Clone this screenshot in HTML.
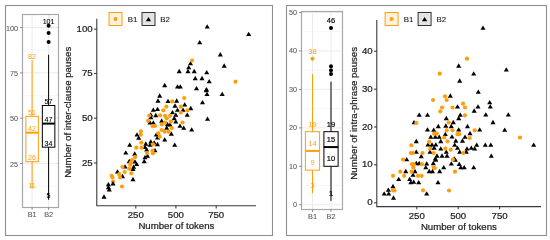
<!DOCTYPE html>
<html><head><meta charset="utf-8"><style>
html,body{margin:0;padding:0;background:#fff;}
svg{display:block;font-family:'Liberation Sans', sans-serif;}
</style></head><body>
<svg width="550" height="240" viewBox="0 0 550 240">
<rect width="550" height="240" fill="#fff"/>
<rect x="5.5" y="5.5" width="267" height="230" fill="none" stroke="#8f8f8f" stroke-width="1.1"/>
<rect x="286.5" y="5.5" width="260" height="230" fill="none" stroke="#8f8f8f" stroke-width="1.1"/>
<line x1="22.5" x2="58.5" y1="186.16" y2="186.16" stroke="#f2f2f2" stroke-width="0.7"/>
<line x1="22.5" x2="58.5" y1="140.83" y2="140.83" stroke="#f2f2f2" stroke-width="0.7"/>
<line x1="22.5" x2="58.5" y1="95.50" y2="95.50" stroke="#f2f2f2" stroke-width="0.7"/>
<line x1="22.5" x2="58.5" y1="50.17" y2="50.17" stroke="#f2f2f2" stroke-width="0.7"/>
<line x1="22.5" x2="58.5" y1="163.50" y2="163.50" stroke="#ebebeb" stroke-width="1"/>
<line x1="22.5" x2="58.5" y1="118.16" y2="118.16" stroke="#ebebeb" stroke-width="1"/>
<line x1="22.5" x2="58.5" y1="72.83" y2="72.83" stroke="#ebebeb" stroke-width="1"/>
<line x1="22.5" x2="58.5" y1="27.50" y2="27.50" stroke="#ebebeb" stroke-width="1"/>
<line x1="32.1" x2="32.1" y1="14.5" y2="207.5" stroke="#ebebeb" stroke-width="1"/>
<line x1="48.6" x2="48.6" y1="14.5" y2="207.5" stroke="#ebebeb" stroke-width="1"/>
<line x1="32.1" x2="32.1" y1="60.14" y2="116.35" stroke="#FF9E0D" stroke-width="1"/>
<line x1="32.1" x2="32.1" y1="161.68" y2="188.88" stroke="#FF9E0D" stroke-width="1"/>
<rect x="25.85" y="116.35" width="12.5" height="45.33" fill="#fff" stroke="#FF9E0D" stroke-width="1"/>
<line x1="25.85" x2="38.35" y1="132.67" y2="132.67" stroke="#FF9E0D" stroke-width="2"/>
<text x="32.1" y="58.79" font-size="7.15" fill="#FF9E0D" stroke="#FF9E0D" stroke-width="0" text-anchor="middle">82</text>
<text x="32.1" y="115.00" font-size="7.15" fill="#FF9E0D" stroke="#FF9E0D" stroke-width="0" text-anchor="middle">51</text>
<text x="32.1" y="131.32" font-size="7.15" fill="#FF9E0D" stroke="#FF9E0D" stroke-width="0" text-anchor="middle">42</text>
<text x="32.1" y="160.33" font-size="7.15" fill="#FF9E0D" stroke="#FF9E0D" stroke-width="0" text-anchor="middle">26</text>
<text x="32.1" y="187.53" font-size="7.15" fill="#FF9E0D" stroke="#FF9E0D" stroke-width="0" text-anchor="middle">11</text>
<line x1="48.6" x2="48.6" y1="54.70" y2="105.47" stroke="#000" stroke-width="1"/>
<line x1="48.6" x2="48.6" y1="147.18" y2="199.76" stroke="#000" stroke-width="1"/>
<rect x="42.35" y="105.47" width="12.5" height="41.71" fill="#fff" stroke="#000" stroke-width="1"/>
<line x1="42.35" x2="54.85" y1="123.60" y2="123.60" stroke="#000" stroke-width="2"/>
<circle cx="48.6" cy="25.69" r="2.0" fill="#000"/>
<circle cx="48.6" cy="32.94" r="2.0" fill="#000"/>
<circle cx="48.6" cy="42.01" r="2.0" fill="#000"/>
<text x="48.6" y="24.33" font-size="7.15" fill="#000" stroke="#000" stroke-width="0.08" text-anchor="middle">101</text>
<text x="48.6" y="104.12" font-size="7.15" fill="#000" stroke="#000" stroke-width="0.08" text-anchor="middle">57</text>
<text x="48.6" y="122.25" font-size="7.15" fill="#000" stroke="#000" stroke-width="0.08" text-anchor="middle">47</text>
<text x="48.6" y="145.83" font-size="7.15" fill="#000" stroke="#000" stroke-width="0.08" text-anchor="middle">34</text>
<text x="48.6" y="198.41" font-size="7.15" fill="#000" stroke="#000" stroke-width="0.08" text-anchor="middle">5</text>
<rect x="22.5" y="14.5" width="36.0" height="193.0" fill="none" stroke="#a8a8a8" stroke-width="1.2"/>
<line x1="20.1" x2="22.5" y1="27.50" y2="27.50" stroke="#888" stroke-width="1"/>
<text x="18.1" y="30.50" font-size="7.2" fill="#5a5a5a" stroke="#5a5a5a" stroke-width="0.08" text-anchor="end">100</text>
<line x1="20.1" x2="22.5" y1="72.83" y2="72.83" stroke="#888" stroke-width="1"/>
<text x="18.1" y="75.83" font-size="7.2" fill="#5a5a5a" stroke="#5a5a5a" stroke-width="0.08" text-anchor="end">75</text>
<line x1="20.1" x2="22.5" y1="118.16" y2="118.16" stroke="#888" stroke-width="1"/>
<text x="18.1" y="121.16" font-size="7.2" fill="#5a5a5a" stroke="#5a5a5a" stroke-width="0.08" text-anchor="end">50</text>
<line x1="20.1" x2="22.5" y1="163.50" y2="163.50" stroke="#888" stroke-width="1"/>
<text x="18.1" y="166.50" font-size="7.2" fill="#5a5a5a" stroke="#5a5a5a" stroke-width="0.08" text-anchor="end">25</text>
<line x1="32.1" x2="32.1" y1="207.5" y2="209.9" stroke="#888" stroke-width="1"/>
<text x="32.1" y="216.8" font-size="7.3" fill="#5a5a5a" stroke="#5a5a5a" stroke-width="0.08" text-anchor="middle">B1</text>
<line x1="48.6" x2="48.6" y1="207.5" y2="209.9" stroke="#888" stroke-width="1"/>
<text x="48.6" y="216.8" font-size="7.3" fill="#5a5a5a" stroke="#5a5a5a" stroke-width="0.08" text-anchor="middle">B2</text>
<line x1="301.5" x2="342.5" y1="185.53" y2="185.53" stroke="#f2f2f2" stroke-width="0.7"/>
<line x1="301.5" x2="342.5" y1="147.08" y2="147.08" stroke="#f2f2f2" stroke-width="0.7"/>
<line x1="301.5" x2="342.5" y1="108.62" y2="108.62" stroke="#f2f2f2" stroke-width="0.7"/>
<line x1="301.5" x2="342.5" y1="70.18" y2="70.18" stroke="#f2f2f2" stroke-width="0.7"/>
<line x1="301.5" x2="342.5" y1="31.73" y2="31.73" stroke="#f2f2f2" stroke-width="0.7"/>
<line x1="301.5" x2="342.5" y1="204.75" y2="204.75" stroke="#ebebeb" stroke-width="1"/>
<line x1="301.5" x2="342.5" y1="166.30" y2="166.30" stroke="#ebebeb" stroke-width="1"/>
<line x1="301.5" x2="342.5" y1="127.85" y2="127.85" stroke="#ebebeb" stroke-width="1"/>
<line x1="301.5" x2="342.5" y1="89.40" y2="89.40" stroke="#ebebeb" stroke-width="1"/>
<line x1="301.5" x2="342.5" y1="50.95" y2="50.95" stroke="#ebebeb" stroke-width="1"/>
<line x1="301.5" x2="342.5" y1="12.50" y2="12.50" stroke="#ebebeb" stroke-width="1"/>
<line x1="312.5" x2="312.5" y1="11.5" y2="209.5" stroke="#ebebeb" stroke-width="1"/>
<line x1="331" x2="331" y1="11.5" y2="209.5" stroke="#ebebeb" stroke-width="1"/>
<line x1="312.5" x2="312.5" y1="74.02" y2="131.69" stroke="#FF9E0D" stroke-width="1"/>
<line x1="312.5" x2="312.5" y1="170.15" y2="193.22" stroke="#FF9E0D" stroke-width="1"/>
<rect x="305.40" y="131.69" width="14.2" height="38.45" fill="#fff" stroke="#FF9E0D" stroke-width="1"/>
<line x1="305.40" x2="319.60" y1="150.92" y2="150.92" stroke="#FF9E0D" stroke-width="2"/>
<circle cx="312.5" cy="58.64" r="2.0" fill="#FF9E0D"/>
<text x="312.5" y="53.65" font-size="7.5" fill="#FF9E0D" stroke="#FF9E0D" stroke-width="0" text-anchor="middle">38</text>
<text x="312.5" y="126.71" font-size="7.5" fill="#FF9E0D" stroke="#FF9E0D" stroke-width="0" text-anchor="middle">19</text>
<text x="312.5" y="145.93" font-size="7.5" fill="#FF9E0D" stroke="#FF9E0D" stroke-width="0" text-anchor="middle">14</text>
<text x="312.5" y="165.16" font-size="7.5" fill="#FF9E0D" stroke="#FF9E0D" stroke-width="0" text-anchor="middle">9</text>
<text x="312.5" y="188.22" font-size="7.5" fill="#FF9E0D" stroke="#FF9E0D" stroke-width="0" text-anchor="middle">3</text>
<line x1="331" x2="331" y1="81.71" y2="131.69" stroke="#000" stroke-width="1"/>
<line x1="331" x2="331" y1="166.30" y2="200.91" stroke="#000" stroke-width="1"/>
<rect x="323.90" y="131.69" width="14.2" height="34.61" fill="#fff" stroke="#000" stroke-width="1"/>
<line x1="323.90" x2="338.10" y1="147.08" y2="147.08" stroke="#000" stroke-width="2"/>
<circle cx="331" cy="27.88" r="2.0" fill="#000"/>
<circle cx="331" cy="66.33" r="2.0" fill="#000"/>
<circle cx="331" cy="70.18" r="2.0" fill="#000"/>
<circle cx="331" cy="74.02" r="2.0" fill="#000"/>
<text x="331" y="22.89" font-size="7.5" fill="#000" stroke="#000" stroke-width="0.18" text-anchor="middle">46</text>
<text x="331" y="126.71" font-size="7.5" fill="#000" stroke="#000" stroke-width="0.18" text-anchor="middle">19</text>
<text x="331" y="142.08" font-size="7.5" fill="#000" stroke="#000" stroke-width="0.18" text-anchor="middle">15</text>
<text x="331" y="161.31" font-size="7.5" fill="#000" stroke="#000" stroke-width="0.18" text-anchor="middle">10</text>
<text x="331" y="195.91" font-size="7.5" fill="#000" stroke="#000" stroke-width="0.18" text-anchor="middle">1</text>
<rect x="301.5" y="11.5" width="41.0" height="198.0" fill="none" stroke="#a8a8a8" stroke-width="1.2"/>
<line x1="299.1" x2="301.5" y1="12.50" y2="12.50" stroke="#888" stroke-width="1"/>
<text x="297.1" y="14.80" font-size="7.2" fill="#5a5a5a" stroke="#5a5a5a" stroke-width="0.08" text-anchor="end">50</text>
<line x1="299.1" x2="301.5" y1="50.95" y2="50.95" stroke="#888" stroke-width="1"/>
<text x="297.1" y="53.25" font-size="7.2" fill="#5a5a5a" stroke="#5a5a5a" stroke-width="0.08" text-anchor="end">40</text>
<line x1="299.1" x2="301.5" y1="89.40" y2="89.40" stroke="#888" stroke-width="1"/>
<text x="297.1" y="91.70" font-size="7.2" fill="#5a5a5a" stroke="#5a5a5a" stroke-width="0.08" text-anchor="end">30</text>
<line x1="299.1" x2="301.5" y1="127.85" y2="127.85" stroke="#888" stroke-width="1"/>
<text x="297.1" y="130.15" font-size="7.2" fill="#5a5a5a" stroke="#5a5a5a" stroke-width="0.08" text-anchor="end">20</text>
<line x1="299.1" x2="301.5" y1="166.30" y2="166.30" stroke="#888" stroke-width="1"/>
<text x="297.1" y="168.60" font-size="7.2" fill="#5a5a5a" stroke="#5a5a5a" stroke-width="0.08" text-anchor="end">10</text>
<line x1="299.1" x2="301.5" y1="204.75" y2="204.75" stroke="#888" stroke-width="1"/>
<text x="297.1" y="207.05" font-size="7.2" fill="#5a5a5a" stroke="#5a5a5a" stroke-width="0.08" text-anchor="end">0</text>
<line x1="312.5" x2="312.5" y1="209.5" y2="211.9" stroke="#888" stroke-width="1"/>
<text x="312.5" y="218.6" font-size="7.3" fill="#5a5a5a" stroke="#5a5a5a" stroke-width="0.08" text-anchor="middle">B1</text>
<line x1="331" x2="331" y1="209.5" y2="211.9" stroke="#888" stroke-width="1"/>
<text x="331" y="218.6" font-size="7.3" fill="#5a5a5a" stroke="#5a5a5a" stroke-width="0.08" text-anchor="middle">B2</text>
<path d="M96.8 18.8 V205.8 H256" fill="none" stroke="#3a3a3a" stroke-width="1.1"/>
<line x1="94.1" x2="96.8" y1="29.2" y2="29.2" stroke="#3a3a3a" stroke-width="1.1"/>
<text x="92.6" y="31.70" font-size="9.65" fill="#222" stroke="#222" stroke-width="0.22" text-anchor="end">100</text>
<line x1="94.1" x2="96.8" y1="73.5" y2="73.5" stroke="#3a3a3a" stroke-width="1.1"/>
<text x="92.6" y="76.00" font-size="9.65" fill="#222" stroke="#222" stroke-width="0.22" text-anchor="end">75</text>
<line x1="94.1" x2="96.8" y1="118.2" y2="118.2" stroke="#3a3a3a" stroke-width="1.1"/>
<text x="92.6" y="120.70" font-size="9.65" fill="#222" stroke="#222" stroke-width="0.22" text-anchor="end">50</text>
<line x1="94.1" x2="96.8" y1="163" y2="163" stroke="#3a3a3a" stroke-width="1.1"/>
<text x="92.6" y="165.50" font-size="9.65" fill="#222" stroke="#222" stroke-width="0.22" text-anchor="end">25</text>
<line x1="135.8" x2="135.8" y1="205.8" y2="208.5" stroke="#3a3a3a" stroke-width="1.1"/>
<text x="135.8" y="217.80" font-size="9.65" fill="#222" stroke="#222" stroke-width="0.22" text-anchor="middle">250</text>
<line x1="175.9" x2="175.9" y1="205.8" y2="208.5" stroke="#3a3a3a" stroke-width="1.1"/>
<text x="175.9" y="217.80" font-size="9.65" fill="#222" stroke="#222" stroke-width="0.22" text-anchor="middle">500</text>
<line x1="216.2" x2="216.2" y1="205.8" y2="208.5" stroke="#3a3a3a" stroke-width="1.1"/>
<text x="216.2" y="217.80" font-size="9.65" fill="#222" stroke="#222" stroke-width="0.22" text-anchor="middle">750</text>
<text x="176.4" y="229.40" font-size="9.65" fill="#222" stroke="#222" stroke-width="0.22" text-anchor="middle">Number of tokens</text>
<text x="0" y="0" font-size="9.65" fill="#222" stroke="#222" stroke-width="0.22" text-anchor="middle" transform="translate(71.3,112.30) rotate(-90)">Number of inter-clause pauses</text>
<rect x="109.0" y="12.5" width="13" height="13" fill="#fdf1e0" stroke="#FF9E0D" stroke-width="1"/>
<circle cx="115.5" cy="19" r="1.9" fill="#FF9E0D"/>
<text x="127.7" y="22.4" font-size="7.9" fill="#222" stroke="#222" stroke-width="0.1" text-anchor="start">B1</text>
<rect x="142.0" y="12.5" width="13" height="13" fill="#e4e4e4" stroke="#333" stroke-width="1"/>
<path d="M148.5 17L151.1 21.2L145.9 21.2Z" fill="#000"/>
<text x="160.3" y="22.4" font-size="7.9" fill="#222" stroke="#222" stroke-width="0.1" text-anchor="start">B2</text>
<g fill="#000"><path d="M207.20 24.15L209.75 28.55L204.65 28.55Z"/><path d="M248.70 31.65L251.25 36.05L246.15 36.05Z"/><path d="M199.70 39.95L202.25 44.35L197.15 44.35Z"/><path d="M220.30 52.05L222.85 56.45L217.75 56.45Z"/><path d="M190.50 60.95L193.05 65.35L187.95 65.35Z"/><path d="M188.70 64.95L191.25 69.35L186.15 69.35Z"/><path d="M179.20 68.75L181.75 73.15L176.65 73.15Z"/><path d="M188.00 68.75L190.55 73.15L185.45 73.15Z"/><path d="M194.20 68.75L196.75 73.15L191.65 73.15Z"/><path d="M206.70 69.95L209.25 74.35L204.15 74.35Z"/><path d="M195.30 75.75L197.85 80.15L192.75 80.15Z"/><path d="M202.00 75.75L204.55 80.15L199.45 80.15Z"/><path d="M209.20 78.95L211.75 83.35L206.65 83.35Z"/><path d="M164.70 82.75L167.25 87.15L162.15 87.15Z"/><path d="M177.50 84.15L180.05 88.55L174.95 88.55Z"/><path d="M180.30 84.15L182.85 88.55L177.75 88.55Z"/><path d="M196.50 85.95L199.05 90.35L193.95 90.35Z"/><path d="M206.50 86.95L209.05 91.35L203.95 91.35Z"/><path d="M224.20 63.25L226.75 67.65L221.65 67.65Z"/><path d="M206.30 87.75L208.85 92.15L203.75 92.15Z"/><path d="M207.00 91.65L209.55 96.05L204.45 96.05Z"/><path d="M222.20 91.65L224.75 96.05L219.65 96.05Z"/><path d="M202.50 99.95L205.05 104.35L199.95 104.35Z"/><path d="M207.50 116.45L210.05 120.85L204.95 120.85Z"/><path d="M159.70 93.25L162.25 97.65L157.15 97.65Z"/><path d="M158.00 98.25L160.55 102.65L155.45 102.65Z"/><path d="M168.00 98.65L170.55 103.05L165.45 103.05Z"/><path d="M176.70 98.25L179.25 102.65L174.15 102.65Z"/><path d="M184.70 102.15L187.25 106.55L182.15 106.55Z"/><path d="M175.00 103.25L177.55 107.65L172.45 107.65Z"/><path d="M190.80 105.75L193.35 110.15L188.25 110.15Z"/><path d="M157.50 106.65L160.05 111.05L154.95 111.05Z"/><path d="M153.30 107.45L155.85 111.85L150.75 111.85Z"/><path d="M177.50 107.45L180.05 111.85L174.95 111.85Z"/><path d="M183.00 107.45L185.55 111.85L180.45 111.85Z"/><path d="M172.50 109.95L175.05 114.35L169.95 114.35Z"/><path d="M150.80 112.15L153.35 116.55L148.25 116.55Z"/><path d="M155.80 112.75L158.35 117.15L153.25 117.15Z"/><path d="M175.80 112.45L178.35 116.85L173.25 116.85Z"/><path d="M187.20 112.45L189.75 116.85L184.65 116.85Z"/><path d="M174.20 115.75L176.75 120.15L171.65 120.15Z"/><path d="M150.80 114.95L153.35 119.35L148.25 119.35Z"/><path d="M161.70 118.25L164.25 122.65L159.15 122.65Z"/><path d="M175.80 119.15L178.35 123.55L173.25 123.55Z"/><path d="M150.00 120.15L152.55 124.55L147.45 124.55Z"/><path d="M153.30 120.15L155.85 124.55L150.75 124.55Z"/><path d="M167.50 121.75L170.05 126.15L164.95 126.15Z"/><path d="M170.00 122.15L172.55 126.55L167.45 126.55Z"/><path d="M180.00 123.45L182.55 127.85L177.45 127.85Z"/><path d="M183.70 125.45L186.25 129.85L181.15 129.85Z"/><path d="M191.70 127.15L194.25 131.55L189.15 131.55Z"/><path d="M166.70 125.45L169.25 129.85L164.15 129.85Z"/><path d="M171.30 131.25L173.85 135.65L168.75 135.65Z"/><path d="M156.30 132.15L158.85 136.55L153.75 136.55Z"/><path d="M157.50 135.15L160.05 139.55L154.95 139.55Z"/><path d="M164.70 137.15L167.25 141.55L162.15 141.55Z"/><path d="M174.70 142.45L177.25 146.85L172.15 146.85Z"/><path d="M145.80 141.25L148.35 145.65L143.25 145.65Z"/><path d="M150.80 139.15L153.35 143.55L148.25 143.55Z"/><path d="M154.20 140.15L156.75 144.55L151.65 144.55Z"/><path d="M157.50 141.75L160.05 146.15L154.95 146.15Z"/><path d="M150.00 142.45L152.55 146.85L147.45 146.85Z"/><path d="M145.00 144.65L147.55 149.05L142.45 149.05Z"/><path d="M146.70 147.15L149.25 151.55L144.15 151.55Z"/><path d="M155.00 147.95L157.55 152.35L152.45 152.35Z"/><path d="M147.50 153.45L150.05 157.85L144.95 157.85Z"/><path d="M137.00 132.15L139.55 136.55L134.45 136.55Z"/><path d="M138.70 135.45L141.25 139.85L136.15 139.85Z"/><path d="M129.70 142.45L132.25 146.85L127.15 146.85Z"/><path d="M125.80 150.15L128.35 154.55L123.25 154.55Z"/><path d="M134.70 151.25L137.25 155.65L132.15 155.65Z"/><path d="M145.00 154.95L147.55 159.35L142.45 159.35Z"/><path d="M144.20 158.75L146.75 163.15L141.65 163.15Z"/><path d="M129.20 158.75L131.75 163.15L126.65 163.15Z"/><path d="M135.00 159.15L137.55 163.55L132.45 163.55Z"/><path d="M136.70 161.65L139.25 166.05L134.15 166.05Z"/><path d="M125.00 164.15L127.55 168.55L122.45 168.55Z"/><path d="M133.70 164.45L136.25 168.85L131.15 168.85Z"/><path d="M133.00 166.65L135.55 171.05L130.45 171.05Z"/><path d="M117.50 169.15L120.05 173.55L114.95 173.55Z"/><path d="M122.50 173.75L125.05 178.15L119.95 178.15Z"/><path d="M133.00 176.75L135.55 181.15L130.45 181.15Z"/><path d="M108.40 181.95L110.95 186.35L105.85 186.35Z"/><path d="M108.40 184.85L110.95 189.25L105.85 189.25Z"/><path d="M109.30 187.05L111.85 191.45L106.75 191.45Z"/><path d="M104.00 194.35L106.55 198.75L101.45 198.75Z"/></g>
<g fill="#FF9E0D"><circle cx="192.0" cy="60.5" r="2.1"/><circle cx="235.5" cy="81.7" r="2.1"/><circle cx="184.2" cy="98.0" r="2.1"/><circle cx="172.2" cy="101.3" r="2.1"/><circle cx="166.3" cy="106.7" r="2.1"/><circle cx="180.8" cy="106.7" r="2.1"/><circle cx="163.3" cy="110.3" r="2.1"/><circle cx="187.5" cy="110.3" r="2.1"/><circle cx="180.8" cy="112.5" r="2.1"/><circle cx="149.2" cy="115.5" r="2.1"/><circle cx="160.0" cy="115.3" r="2.1"/><circle cx="165.0" cy="115.8" r="2.1"/><circle cx="170.0" cy="115.8" r="2.1"/><circle cx="166.7" cy="118.3" r="2.1"/><circle cx="148.0" cy="120.8" r="2.1"/><circle cx="170.8" cy="121.7" r="2.1"/><circle cx="182.5" cy="122.5" r="2.1"/><circle cx="161.7" cy="124.3" r="2.1"/><circle cx="165.0" cy="122.7" r="2.1"/><circle cx="152.5" cy="126.0" r="2.1"/><circle cx="155.0" cy="126.0" r="2.1"/><circle cx="171.7" cy="128.0" r="2.1"/><circle cx="161.7" cy="130.0" r="2.1"/><circle cx="164.7" cy="131.7" r="2.1"/><circle cx="168.7" cy="131.7" r="2.1"/><circle cx="140.8" cy="131.3" r="2.1"/><circle cx="140.8" cy="134.7" r="2.1"/><circle cx="158.3" cy="133.3" r="2.1"/><circle cx="159.7" cy="136.7" r="2.1"/><circle cx="141.3" cy="142.7" r="2.1"/><circle cx="153.0" cy="144.3" r="2.1"/><circle cx="141.7" cy="147.7" r="2.1"/><circle cx="152.5" cy="150.5" r="2.1"/><circle cx="153.0" cy="153.3" r="2.1"/><circle cx="147.0" cy="153.0" r="2.1"/><circle cx="136.3" cy="147.7" r="2.1"/><circle cx="135.0" cy="157.2" r="2.1"/><circle cx="132.0" cy="160.0" r="2.1"/><circle cx="130.8" cy="162.5" r="2.1"/><circle cx="130.3" cy="164.7" r="2.1"/><circle cx="122.5" cy="167.0" r="2.1"/><circle cx="129.2" cy="168.7" r="2.1"/><circle cx="124.7" cy="172.0" r="2.1"/><circle cx="119.2" cy="174.2" r="2.1"/><circle cx="131.3" cy="173.3" r="2.1"/><circle cx="111.7" cy="175.8" r="2.1"/><circle cx="112.5" cy="177.5" r="2.1"/><circle cx="120.0" cy="177.5" r="2.1"/><circle cx="113.0" cy="181.7" r="2.1"/><circle cx="122.0" cy="186.5" r="2.1"/></g>
<g fill="#000"><path d="M113.00 181.05L115.55 185.45L110.45 185.45Z"/></g>
<path d="M376.8 20 V206.6 H541" fill="none" stroke="#3a3a3a" stroke-width="1.1"/>
<line x1="374.1" x2="376.8" y1="51.25" y2="51.25" stroke="#3a3a3a" stroke-width="1.1"/>
<text x="372.6" y="53.75" font-size="9.65" fill="#222" stroke="#222" stroke-width="0.22" text-anchor="end">40</text>
<line x1="374.1" x2="376.8" y1="89.2" y2="89.2" stroke="#3a3a3a" stroke-width="1.1"/>
<text x="372.6" y="91.70" font-size="9.65" fill="#222" stroke="#222" stroke-width="0.22" text-anchor="end">30</text>
<line x1="374.1" x2="376.8" y1="127" y2="127" stroke="#3a3a3a" stroke-width="1.1"/>
<text x="372.6" y="129.50" font-size="9.65" fill="#222" stroke="#222" stroke-width="0.22" text-anchor="end">20</text>
<line x1="374.1" x2="376.8" y1="164.8" y2="164.8" stroke="#3a3a3a" stroke-width="1.1"/>
<text x="372.6" y="167.30" font-size="9.65" fill="#222" stroke="#222" stroke-width="0.22" text-anchor="end">10</text>
<line x1="374.1" x2="376.8" y1="202.8" y2="202.8" stroke="#3a3a3a" stroke-width="1.1"/>
<text x="372.6" y="205.30" font-size="9.65" fill="#222" stroke="#222" stroke-width="0.22" text-anchor="end">0</text>
<line x1="416.8" x2="416.8" y1="206.6" y2="209.29999999999998" stroke="#3a3a3a" stroke-width="1.1"/>
<text x="416.8" y="218.60" font-size="9.65" fill="#222" stroke="#222" stroke-width="0.22" text-anchor="middle">250</text>
<line x1="458.2" x2="458.2" y1="206.6" y2="209.29999999999998" stroke="#3a3a3a" stroke-width="1.1"/>
<text x="458.2" y="218.60" font-size="9.65" fill="#222" stroke="#222" stroke-width="0.22" text-anchor="middle">500</text>
<line x1="499.6" x2="499.6" y1="206.6" y2="209.29999999999998" stroke="#3a3a3a" stroke-width="1.1"/>
<text x="499.6" y="218.60" font-size="9.65" fill="#222" stroke="#222" stroke-width="0.22" text-anchor="middle">750</text>
<text x="458.9" y="230.20" font-size="9.65" fill="#222" stroke="#222" stroke-width="0.22" text-anchor="middle">Number of tokens</text>
<text x="0" y="0" font-size="9.65" fill="#222" stroke="#222" stroke-width="0.22" text-anchor="middle" transform="translate(356.6,113.30) rotate(-90)">Number of intra-phrase pauses</text>
<rect x="385.1" y="12.5" width="13" height="13" fill="#fdf1e0" stroke="#FF9E0D" stroke-width="1"/>
<circle cx="391.6" cy="19" r="1.9" fill="#FF9E0D"/>
<text x="403.8" y="22.4" font-size="7.9" fill="#222" stroke="#222" stroke-width="0.1" text-anchor="start">B1</text>
<rect x="418.1" y="12.5" width="13" height="13" fill="#e4e4e4" stroke="#333" stroke-width="1"/>
<path d="M424.6 17L427.20000000000005 21.2L422.0 21.2Z" fill="#000"/>
<text x="436.40000000000003" y="22.4" font-size="7.9" fill="#222" stroke="#222" stroke-width="0.1" text-anchor="start">B2</text>
<g fill="#000"><path d="M483.00 25.45L485.55 29.85L480.45 29.85Z"/><path d="M458.70 63.25L461.25 67.65L456.15 67.65Z"/><path d="M473.70 71.15L476.25 75.55L471.15 75.55Z"/><path d="M459.70 78.25L462.25 82.65L457.15 82.65Z"/><path d="M506.30 67.15L508.85 71.55L503.75 71.55Z"/><path d="M419.20 112.45L421.75 116.85L416.65 116.85Z"/><path d="M427.50 112.45L430.05 116.85L424.95 116.85Z"/><path d="M414.00 119.95L416.55 124.35L411.45 124.35Z"/><path d="M478.30 89.45L480.85 93.85L475.75 93.85Z"/><path d="M450.30 93.25L452.85 97.65L447.75 97.65Z"/><path d="M457.50 104.15L460.05 108.55L454.95 108.55Z"/><path d="M478.00 104.15L480.55 108.55L475.45 108.55Z"/><path d="M489.70 99.95L492.25 104.35L487.15 104.35Z"/><path d="M490.30 104.15L492.85 108.55L487.75 108.55Z"/><path d="M474.20 108.25L476.75 112.65L471.65 112.65Z"/><path d="M460.30 112.45L462.85 116.85L457.75 116.85Z"/><path d="M485.80 112.15L488.35 116.55L483.25 116.55Z"/><path d="M458.70 115.75L461.25 120.15L456.15 120.15Z"/><path d="M446.30 115.75L448.85 120.15L443.75 120.15Z"/><path d="M453.30 119.75L455.85 124.15L450.75 124.15Z"/><path d="M508.30 112.15L510.85 116.55L505.75 116.55Z"/><path d="M493.00 119.75L495.55 124.15L490.45 124.15Z"/><path d="M427.50 127.15L430.05 131.55L424.95 131.55Z"/><path d="M416.30 138.75L418.85 143.15L413.75 143.15Z"/><path d="M428.00 142.15L430.55 146.55L425.45 146.55Z"/><path d="M416.30 149.45L418.85 153.85L413.75 153.85Z"/><path d="M430.00 149.45L432.55 153.85L427.45 153.85Z"/><path d="M421.30 153.75L423.85 158.15L418.75 158.15Z"/><path d="M406.70 156.95L409.25 161.35L404.15 161.35Z"/><path d="M438.30 123.75L440.85 128.15L435.75 128.15Z"/><path d="M445.80 123.25L448.35 127.65L443.25 127.65Z"/><path d="M451.30 123.75L453.85 128.15L448.75 128.15Z"/><path d="M467.50 123.75L470.05 128.15L464.95 128.15Z"/><path d="M433.70 127.45L436.25 131.85L431.15 131.85Z"/><path d="M458.70 127.15L461.25 131.55L456.15 131.55Z"/><path d="M479.70 127.15L482.25 131.55L477.15 131.55Z"/><path d="M445.30 131.65L447.85 136.05L442.75 136.05Z"/><path d="M470.00 130.75L472.55 135.15L467.45 135.15Z"/><path d="M430.80 134.45L433.35 138.85L428.25 138.85Z"/><path d="M435.30 134.45L437.85 138.85L432.75 138.85Z"/><path d="M439.20 134.45L441.75 138.85L436.65 138.85Z"/><path d="M452.00 134.15L454.55 138.55L449.45 138.55Z"/><path d="M465.00 134.45L467.55 138.85L462.45 138.85Z"/><path d="M440.80 138.75L443.35 143.15L438.25 143.15Z"/><path d="M455.80 138.25L458.35 142.65L453.25 142.65Z"/><path d="M462.50 138.25L465.05 142.65L459.95 142.65Z"/><path d="M432.00 142.15L434.55 146.55L429.45 146.55Z"/><path d="M435.80 142.15L438.35 146.55L433.25 146.55Z"/><path d="M454.70 142.45L457.25 146.85L452.15 146.85Z"/><path d="M476.70 142.45L479.25 146.85L474.15 146.85Z"/><path d="M485.30 142.45L487.85 146.85L482.75 146.85Z"/><path d="M431.00 145.45L433.55 149.85L428.45 149.85Z"/><path d="M434.20 145.45L436.75 149.85L431.65 149.85Z"/><path d="M440.80 146.15L443.35 150.55L438.25 150.55Z"/><path d="M457.50 145.45L460.05 149.85L454.95 149.85Z"/><path d="M467.00 146.15L469.55 150.55L464.45 150.55Z"/><path d="M471.30 145.45L473.85 149.85L468.75 149.85Z"/><path d="M474.70 146.15L477.25 150.55L472.15 150.55Z"/><path d="M446.30 149.45L448.85 153.85L443.75 153.85Z"/><path d="M459.70 149.45L462.25 153.85L457.15 153.85Z"/><path d="M466.30 149.45L468.85 153.85L463.75 153.85Z"/><path d="M437.00 153.25L439.55 157.65L434.45 157.65Z"/><path d="M442.00 153.25L444.55 157.65L439.45 157.65Z"/><path d="M447.00 153.25L449.55 157.65L444.45 157.65Z"/><path d="M435.30 156.15L437.85 160.55L432.75 160.55Z"/><path d="M454.20 156.15L456.75 160.55L451.65 160.55Z"/><path d="M504.70 127.45L507.25 131.85L502.15 131.85Z"/><path d="M490.80 142.45L493.35 146.85L488.25 146.85Z"/><path d="M533.70 142.45L536.25 146.85L531.15 146.85Z"/><path d="M491.30 153.45L493.85 157.85L488.75 157.85Z"/><path d="M416.30 160.75L418.85 165.15L413.75 165.15Z"/><path d="M419.20 160.75L421.75 165.15L416.65 165.15Z"/><path d="M426.70 161.15L429.25 165.55L424.15 165.55Z"/><path d="M433.30 160.75L435.85 165.15L430.75 165.15Z"/><path d="M425.80 164.95L428.35 169.35L423.25 169.35Z"/><path d="M405.80 168.75L408.35 173.15L403.25 173.15Z"/><path d="M415.00 168.75L417.55 173.15L412.45 173.15Z"/><path d="M429.20 168.75L431.75 173.15L426.65 173.15Z"/><path d="M432.50 168.75L435.05 173.15L429.95 173.15Z"/><path d="M413.00 172.45L415.55 176.85L410.45 176.85Z"/><path d="M398.70 176.65L401.25 181.05L396.15 181.05Z"/><path d="M409.70 176.65L412.25 181.05L407.15 181.05Z"/><path d="M410.80 179.95L413.35 184.35L408.25 184.35Z"/><path d="M413.70 179.45L416.25 183.85L411.15 183.85Z"/><path d="M418.70 179.95L421.25 184.35L416.15 184.35Z"/><path d="M393.00 183.75L395.55 188.15L390.45 188.15Z"/><path d="M388.30 187.45L390.85 191.85L385.75 191.85Z"/><path d="M384.20 191.15L386.75 195.55L381.65 195.55Z"/><path d="M388.70 191.15L391.25 195.55L386.15 195.55Z"/><path d="M426.70 191.15L429.25 195.55L424.15 195.55Z"/><path d="M393.50 195.25L396.05 199.65L390.95 199.65Z"/><path d="M435.80 157.45L438.35 161.85L433.25 161.85Z"/><path d="M455.30 157.45L457.85 161.85L452.75 161.85Z"/><path d="M451.30 161.15L453.85 165.55L448.75 165.55Z"/><path d="M459.20 161.65L461.75 166.05L456.65 166.05Z"/><path d="M443.70 164.95L446.25 169.35L441.15 169.35Z"/><path d="M460.80 164.95L463.35 169.35L458.25 169.35Z"/><path d="M464.20 164.95L466.75 169.35L461.65 169.35Z"/><path d="M473.70 164.95L476.25 169.35L471.15 169.35Z"/><path d="M439.70 168.75L442.25 173.15L437.15 173.15Z"/><path d="M438.00 179.95L440.55 184.35L435.45 184.35Z"/></g>
<g fill="#FF9E0D"><circle cx="467.0" cy="58.7" r="2.1"/><circle cx="439.7" cy="73.7" r="2.1"/><circle cx="433.0" cy="100.0" r="2.1"/><circle cx="416.3" cy="123.0" r="2.1"/><circle cx="445.0" cy="96.3" r="2.1"/><circle cx="446.7" cy="100.0" r="2.1"/><circle cx="463.0" cy="103.7" r="2.1"/><circle cx="465.0" cy="107.5" r="2.1"/><circle cx="442.0" cy="107.5" r="2.1"/><circle cx="452.5" cy="107.5" r="2.1"/><circle cx="440.3" cy="111.3" r="2.1"/><circle cx="465.0" cy="115.3" r="2.1"/><circle cx="448.7" cy="122.5" r="2.1"/><circle cx="429.2" cy="141.7" r="2.1"/><circle cx="411.3" cy="145.3" r="2.1"/><circle cx="430.3" cy="148.7" r="2.1"/><circle cx="410.8" cy="153.0" r="2.1"/><circle cx="413.0" cy="153.0" r="2.1"/><circle cx="422.5" cy="153.0" r="2.1"/><circle cx="433.7" cy="153.0" r="2.1"/><circle cx="403.0" cy="159.5" r="2.1"/><circle cx="446.7" cy="130.3" r="2.1"/><circle cx="452.5" cy="130.3" r="2.1"/><circle cx="474.7" cy="130.3" r="2.1"/><circle cx="434.2" cy="133.7" r="2.1"/><circle cx="436.7" cy="133.7" r="2.1"/><circle cx="457.5" cy="134.2" r="2.1"/><circle cx="459.2" cy="134.2" r="2.1"/><circle cx="444.2" cy="137.5" r="2.1"/><circle cx="469.7" cy="138.0" r="2.1"/><circle cx="447.5" cy="141.3" r="2.1"/><circle cx="445.3" cy="148.7" r="2.1"/><circle cx="450.8" cy="149.7" r="2.1"/><circle cx="463.3" cy="153.0" r="2.1"/><circle cx="453.0" cy="159.5" r="2.1"/><circle cx="520.0" cy="137.5" r="2.1"/><circle cx="412.0" cy="164.2" r="2.1"/><circle cx="413.7" cy="164.2" r="2.1"/><circle cx="422.0" cy="164.2" r="2.1"/><circle cx="413.3" cy="167.5" r="2.1"/><circle cx="433.7" cy="167.5" r="2.1"/><circle cx="400.3" cy="171.7" r="2.1"/><circle cx="411.7" cy="171.7" r="2.1"/><circle cx="393.0" cy="175.8" r="2.1"/><circle cx="404.2" cy="175.8" r="2.1"/><circle cx="418.0" cy="175.8" r="2.1"/><circle cx="421.7" cy="175.8" r="2.1"/><circle cx="393.0" cy="190.3" r="2.1"/><circle cx="394.5" cy="190.5" r="2.1"/><circle cx="423.0" cy="190.3" r="2.1"/><circle cx="455.0" cy="171.7" r="2.1"/><circle cx="449.0" cy="190.5" r="2.1"/><circle cx="434.7" cy="168.0" r="2.1"/></g>
</svg>
</body></html>
